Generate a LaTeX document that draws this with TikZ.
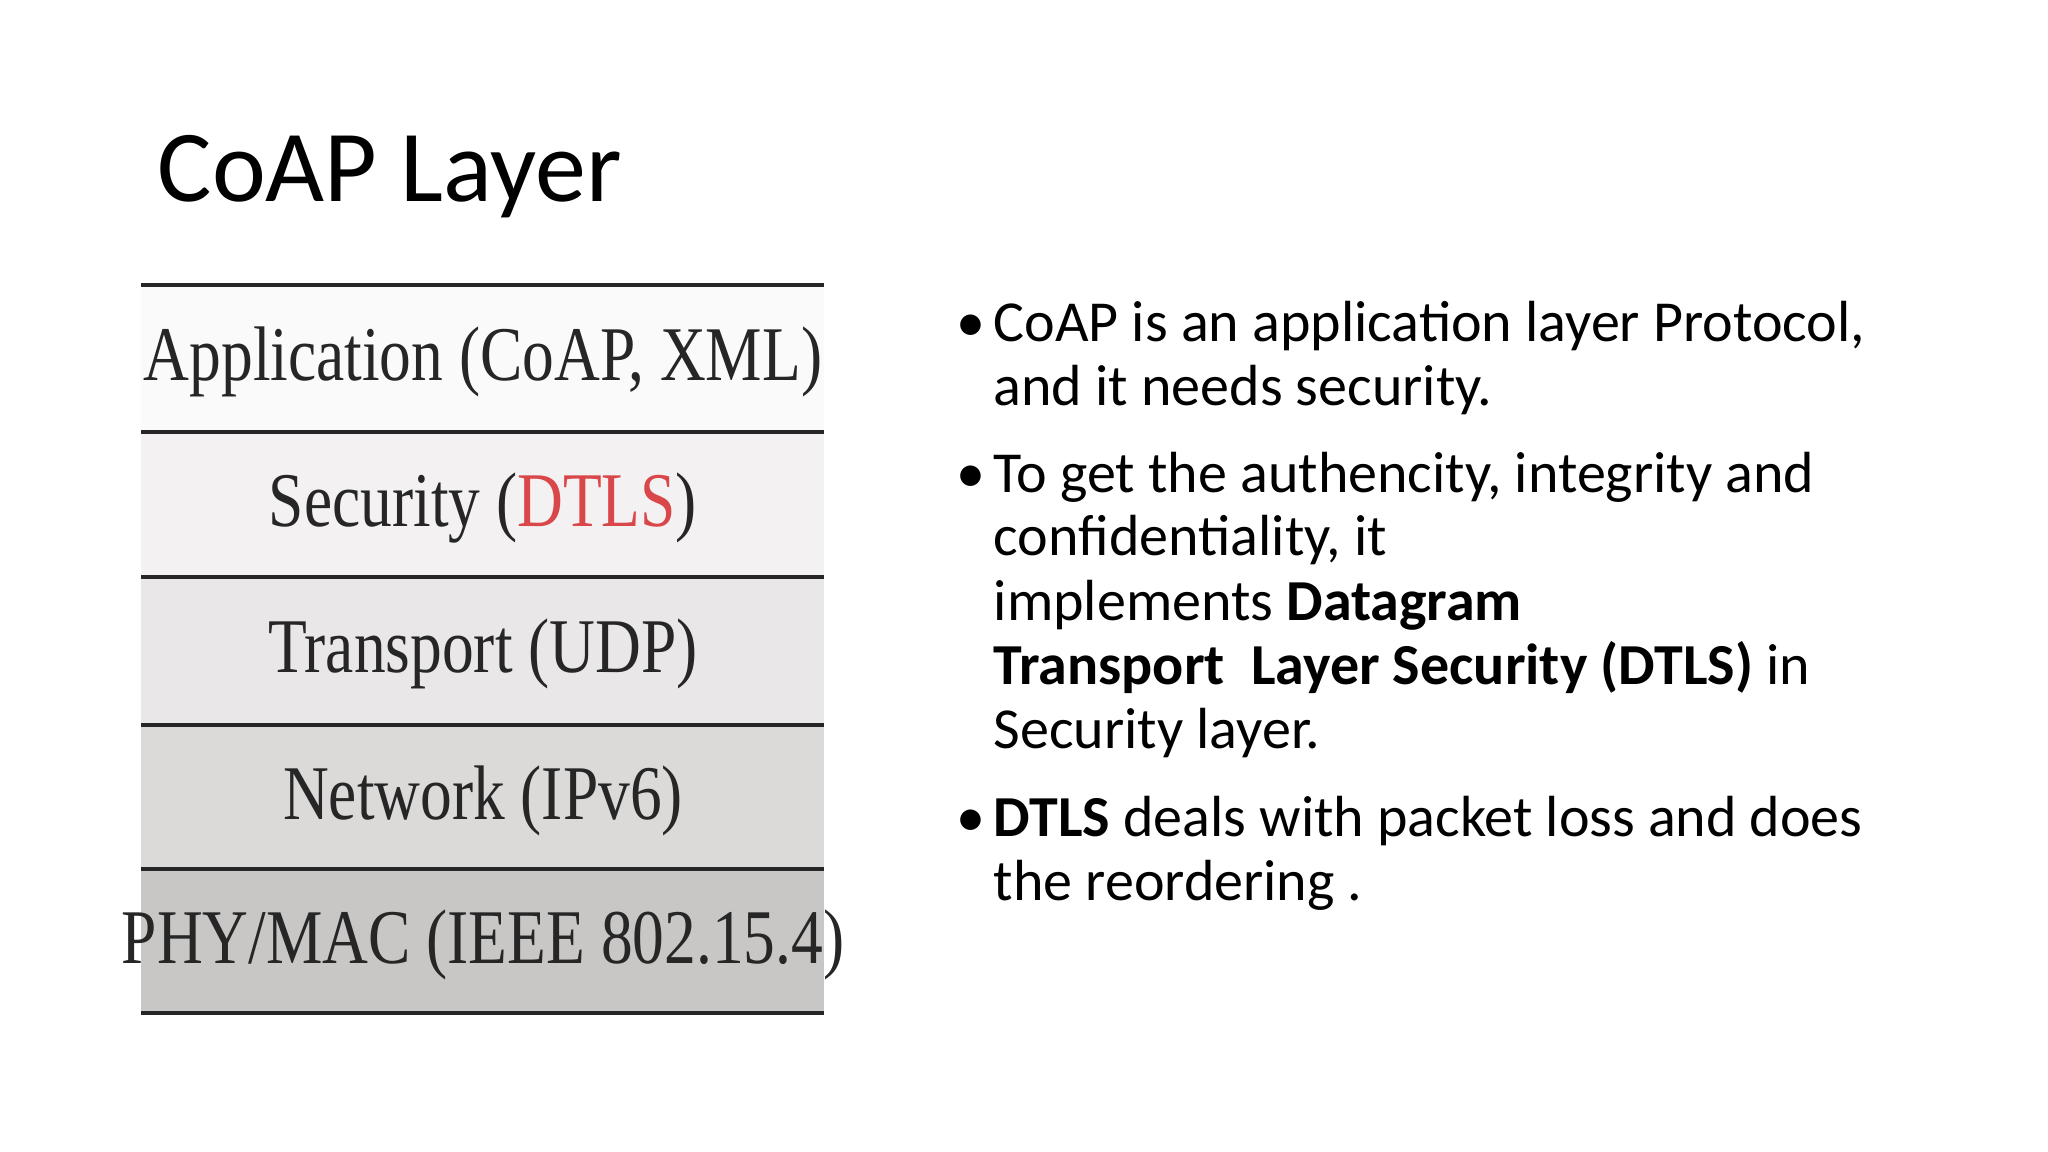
\documentclass[tikz,border=0pt]{standalone}
\usepackage{fontspec}
\setmainfont{Carlito}
\newfontfamily\tabfont{Liberation Serif}
\definecolor{r1}{HTML}{FAFAFA}
\definecolor{r2}{HTML}{F3F1F1}
\definecolor{r3}{HTML}{E9E7E7}
\definecolor{r4}{HTML}{DCDAD9}
\definecolor{r5}{HTML}{C9C7C6}
\definecolor{dtls}{HTML}{D9474B}
\begin{document}
\begin{tikzpicture}[x=0.01cm,y=-0.01cm,
  rowtxt/.style={font=\tabfont\fontsize{22}{24}\selectfont, text=black!85},
  btxt/.style={anchor=base west, inner sep=0, font=\fontsize{16.5}{19}\selectfont},
  sep/.style={line width=1.1pt, draw=black!85}]
\fill[white] (0,0) rectangle (2048,1152);
\node[anchor=base west, inner sep=0, font=\fontsize{29}{34}\selectfont] (title) at (157,202) {CoAP Layer};
\fill[r1] (141,285) rectangle (824,432);
\fill[r2] (141,432) rectangle (824,577);
\fill[r3] (141,577) rectangle (824,725);
\fill[r4] (141,725) rectangle (824,869);
\fill[r5] (141,869) rectangle (824,1013);
\foreach \y in {285,432,577,725,869,1013} \draw[sep] (141,\y) -- (824,\y);
\node[rowtxt] (a) at (483,362) {\scalebox{0.82}[1]{Application (CoAP, XML)}};
\node[rowtxt] (s) at (483,508) {\scalebox{0.82}[1]{Security (\textcolor{dtls}{DTLS})}};
\node[rowtxt] (t) at (483,654) {\scalebox{0.82}[1]{Transport (UDP)}};
\node[rowtxt] (n) at (483,801) {\scalebox{0.82}[1]{Network (IPv6)}};
\node[rowtxt] (p) at (483,945) {\scalebox{0.82}[1]{PHY/MAC (IEEE 802.15.4)}};
\foreach \y/\n in {342/b1,492/b2,836/b3} \node[btxt] (\n) at (956,\y) {•};
\node[btxt] (l1) at (993,342) {CoAP is an application layer Protocol,};
\node[btxt] (l2) at (993,406) {and it needs security.};
\node[btxt] (l3) at (993,492) {To get the authencity, integrity and};
\node[btxt] (l4) at (993,556) {confidentiality, it};
\node[btxt] (l5) at (993,620) {implements \textbf{Datagram}};
\node[btxt] (l6) at (993,684) {\textbf{Transport\ \ Layer Security (DTLS)} in};
\node[btxt] (l7) at (993,748) {Security layer.};
\node[btxt] (l8) at (993,836) {\textbf{DTLS} deals with packet loss and does};
\node[btxt] (l9) at (993,900) {the reordering .};
\end{tikzpicture}
\end{document}
